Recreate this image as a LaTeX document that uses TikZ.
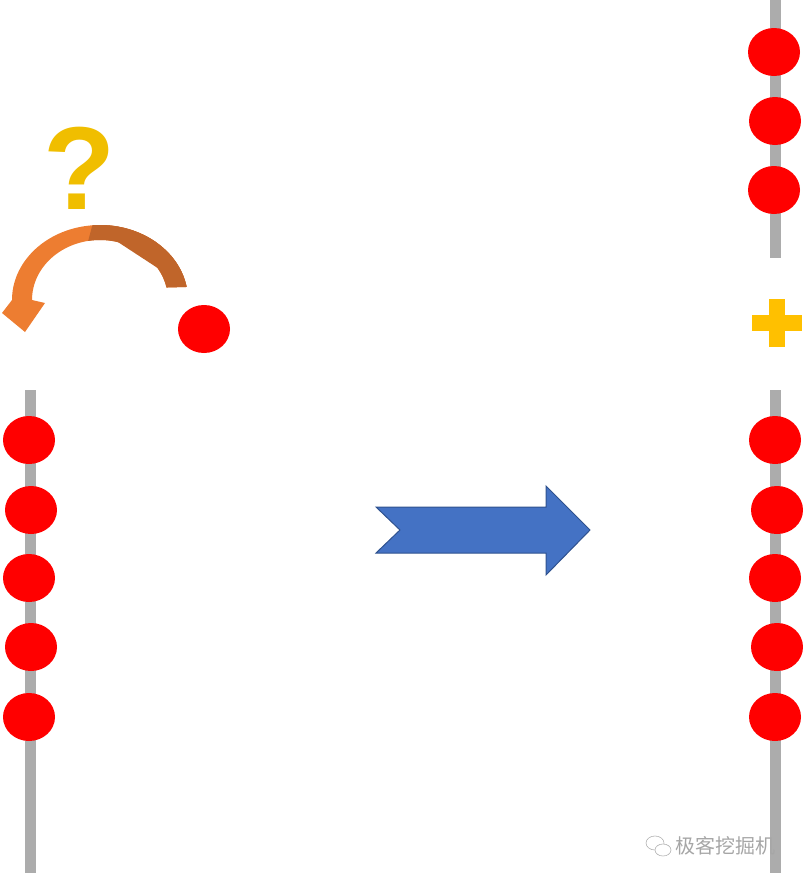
\documentclass[tikz,border=0pt]{standalone}
\usepackage{fontspec}
\setmainfont{Liberation Sans}
\newfontfamily\cjk{Noto Sans CJK SC}
\definecolor{bluef}{RGB}{68,114,196}
\definecolor{blued}{RGB}{47,82,143}
\definecolor{orl}{RGB}{237,125,49}
\definecolor{ord}{RGB}{192,101,42}
\definecolor{goldq}{RGB}{240,190,0}
\definecolor{plusc}{RGB}{255,192,0}
\begin{document}
\begin{tikzpicture}[x=1pt,y=-1pt,
  rod/.style={fill=gray!65,draw=none},
  ball/.style={fill=red,draw=none}]
\useasboundingbox (0,0) rectangle (803,881);
% rods
\fill[rod] (25,390) rectangle (36,873);
\fill[rod] (770,0) rectangle (781,258);
\fill[rod] (770,390) rectangle (781,873);
% balls
\foreach \x/\y in {29/440,31/510,29/578,31/647,29/717,
                   774/52,775/121,774/190,
                   775/440,777/510,775/578,777/647,775/717,204/329}
  \fill[ball] (\x,\y) ellipse [x radius=26, y radius=24];
% plus
\fill[plusc] (769,299) rectangle (785,347);
\fill[plusc] (752,315) rectangle (802,331);
% blue arrow
\filldraw[fill=bluef, draw=blued, line width=1pt]
  (376,507) -- (546,507) -- (546,486) -- (590,530) -- (546,575) -- (546,553)
  -- (376,553) -- (400,530) -- cycle;
% curved arrow
\fill[orl]
  (100,300) ++(-10:88 and 75) arc[start angle=-10, end angle=-180, x radius=88, y radius=75]
  -- (2,313) -- (25,332) -- (45,303) -- (32,300)
  arc[start angle=-180, end angle=-12, x radius=68, y radius=60] -- cycle;
\fill[ord]
  (100,300) ++(-10:88 and 75) arc[start angle=-10, end angle=-95, x radius=88, y radius=75]
  -- ++(0,0) coordinate (t1)
  (100,300) ++(-100:68 and 60) coordinate (t2);
\fill[ord]
  (100,300) ++(-10:88 and 75) arc[start angle=-10, end angle=-95, x radius=88, y radius=75]
  -- (t2) arc[start angle=-100, end angle=-12, x radius=68, y radius=60] -- cycle;
% question mark
\node[text=goldq, font=\bfseries\fontsize{118}{118}\selectfont, inner sep=0] (q) at (80,168) {?};
% watermark
\draw[gray!60, line width=0.6pt] (655,843) ellipse [x radius=9, y radius=7];
\draw[gray!60, line width=0.6pt, fill=white] (663,850) ellipse [x radius=8, y radius=6];
\node[text=gray!70, font=\cjk\fontsize{20}{20}\selectfont, inner sep=0] (wm) at (725,846) {极客挖掘机};
\end{tikzpicture}
\end{document}
